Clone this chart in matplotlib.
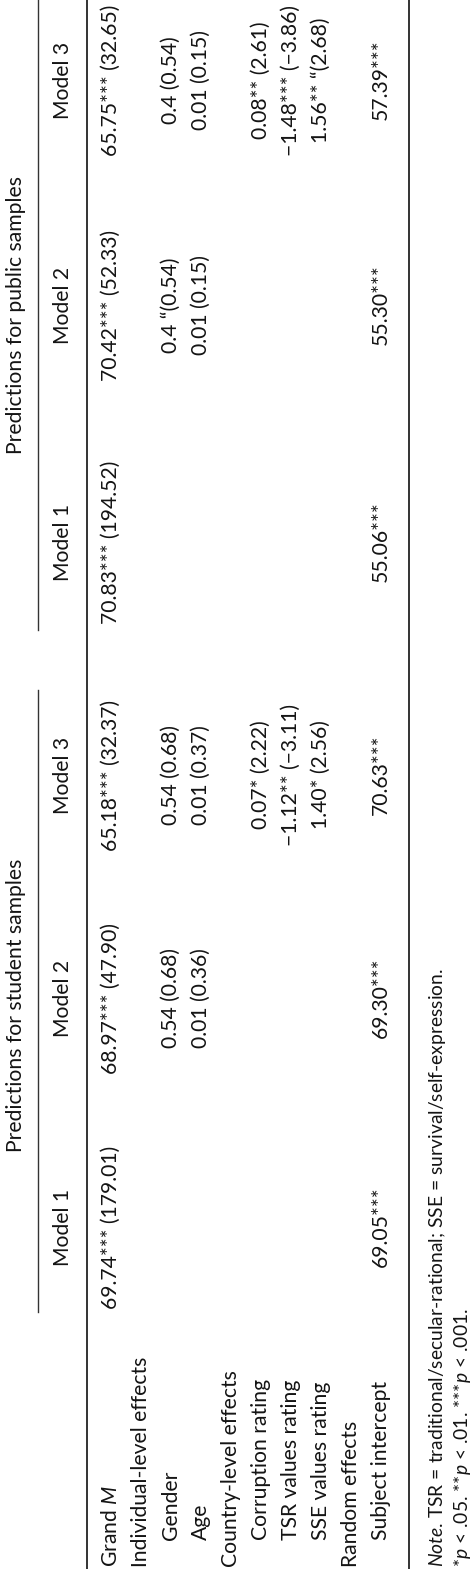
import matplotlib
matplotlib.use("Agg")
import matplotlib.pyplot as plt

plt.rcParams['font.family'] = ['Lato', 'DejaVu Sans']
plt.rcParams['mathtext.fontset'] = 'custom'
plt.rcParams['mathtext.rm'] = 'Lato'
plt.rcParams['mathtext.it'] = 'Lato:italic'
plt.rcParams['mathtext.default'] = 'regular'

# table content
groups = ["Predictions for student samples", "Predictions for public samples"]
models = ["Model 1", "Model 2", "Model 3"]
row_labels = ["Grand $\\mathit{M}$", "Individual-level effects", "Gender", "Age",
              "Country-level effects", "Corruption rating", "TSR values rating",
              "SSE values rating", "Random effects", "Subject intercept"]
row_indent = [0, 0, 1, 1, 0, 1, 1, 1, 0, 1]

student_m1 = ["69.74*** (179.01)", "", "", "", "", "", "", "", "", "69.05***"]
student_m2 = ["68.97*** (47.90)", "", "0.54 (0.68)", "0.01 (0.36)", "", "", "", "", "", "69.30***"]
student_m3 = ["65.18*** (32.37)", "", "0.54 (0.68)", "0.01 (0.37)", "",
              "0.07* (2.22)", "\u22121.12** (\u22123.11)", "1.40* (2.56)", "", "70.63***"]
public_m1 = ["70.83*** (194.52)", "", "", "", "", "", "", "", "", "55.06***"]
public_m2 = ["70.42*** (52.33)", "", "0.4 \u201c(0.54)", "0.01 (0.15)", "", "", "", "", "", "55.30***"]
public_m3 = ["65.75*** (32.65)", "", "0.4 (0.54)", "0.01 (0.15)", "",
             "0.08** (2.61)", "\u22121.48*** (\u22123.86)", "1.56** \u201c(2.68)", "", "57.39***"]

note_lines = ["$\\mathit{Note}$. TSR = traditional/secular-rational; SSE = survival/self-expression.",
              "*$\\mathit{p}$ < .05. **$\\mathit{p}$ < .01. ***$\\mathit{p}$ < .001."]

columns = [student_m1, student_m2, student_m3, public_m1, public_m2, public_m3]

W, H = 474, 1569
fig = plt.figure(figsize=(W / 100, H / 100), dpi=100)
ax = fig.add_axes([0, 0, 1, 1])
ax.set_xlim(0, W)
ax.set_ylim(H, 0)
ax.axis('off')

fs = 15.2
fs_note = 13.9
tc = '#141414'
lc = '#333333'

# layout (the table is turned 90 degrees, text reads upward)
x_group = 16
x_span_rule = 38
x_head = 63
x_top_rule = 87
x_row0 = 111
row_step = 30
x_bottom_rule = 409
x_notes = [438, 463]

y_stub = 1567
indent = 27
col_y = [1227, 998, 775, 542, 305, 80]
group_y = [1005, 315]
span_rules = [(690, 1312), (0, 630)]

for g, gy in zip(groups, group_y):
    ax.text(x_group, gy, g, rotation=90, ha='center', va='center', fontsize=fs, color=tc)
for y0, y1 in span_rules:
    ax.plot([x_span_rule, x_span_rule], [y0, y1], color=lc, lw=1.0)

for i, cy in enumerate(col_y):
    ax.text(x_head, cy, models[i % 3], rotation=90, ha='center', va='center', fontsize=fs, color=tc)

ax.plot([x_top_rule, x_top_rule], [0, H], color=lc, lw=1.4)
ax.plot([x_bottom_rule, x_bottom_rule], [0, H], color=lc, lw=1.4)

for r, (lab, ind) in enumerate(zip(row_labels, row_indent)):
    x = x_row0 + r * row_step
    ax.text(x, y_stub - ind * indent, lab, rotation=90, ha='center', va='bottom',
            fontsize=fs, color=tc)
    for col, cy in zip(columns, col_y):
        if col[r]:
            ax.text(x, cy, col[r], rotation=90, ha='center', va='center',
                    fontsize=fs, color=tc)

for x, line in zip(x_notes, note_lines):
    ax.text(x, y_stub, line, rotation=90, ha='center', va='bottom', fontsize=fs_note, color=tc)

fig.savefig("out.png", dpi=100)
